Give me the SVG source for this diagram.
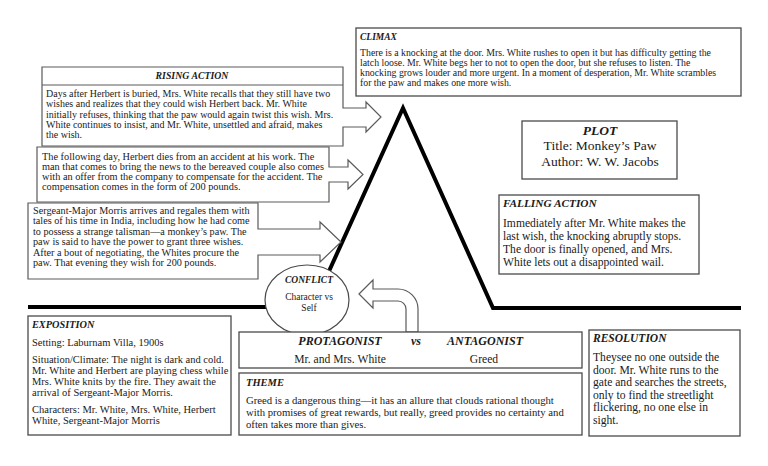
<svg xmlns="http://www.w3.org/2000/svg" width="768" height="466" viewBox="0 0 768 466">
<style>
.bx{fill:#fff;stroke:#4a4a4a;stroke-width:1.3}
.co{fill:#fff;stroke:#5a5a5a;stroke-width:1.2}
text{font-family:"Liberation Serif","Times New Roman",serif;fill:#1a1a1a}
.h{font-weight:bold;font-style:italic}
.c{text-anchor:middle}
.plot{stroke:#000;stroke-width:4;fill:none;stroke-linejoin:miter}
.cl{font-size:9.8px}
.ra{font-size:10px}
.fd{font-size:10.3px}
.sm{font-size:10.2px}
.s10{font-size:10.5px}
.th{font-size:10.7px}
.s11{font-size:11.6px}
</style>
<rect width="768" height="466" fill="#fff"/>

<g id="connectors">
<polyline class="plot" points="325,280 403,108 493,308 741,308"/>
<line class="plot" x1="28" y1="307" x2="300" y2="307"/>
<path class="co" d="M359,294 L373,280 L373,289 L398,289 A20,20 0 0 1 418,309 L418,332 L406,332 L406,309 A8,8 0 0 0 398,301 L373,301 L373,308 Z"/>
</g>

<g id="climax">
<rect class="bx" x="356" y="28" width="385" height="68"/>
<text class="h" x="360" y="40" font-size="9.5">CLIMAX</text>
<text class="cl" x="360" y="56">There is a knocking at the door. Mrs. White rushes to open it but has difficulty getting the</text>
<text class="cl" x="360" y="66">latch loose. Mr. White begs her to not to open the door, but she refuses to listen. The</text>
<text class="cl" x="360" y="76">knocking grows louder and more urgent. In a moment of desperation, Mr. White scrambles</text>
<text class="cl" x="360" y="86">for the paw and makes one more wish.</text>
</g>

<g id="rising-action">
<path class="co" d="M42,67 H343 V108 H366 V102 L381,117 L366,132 V127 H343 V146 H42 Z"/>
<line x1="42" y1="85" x2="343" y2="85" stroke="#5a5a5a" stroke-width="1.2"/>
<text class="h c" x="192" y="79" font-size="9.8">RISING ACTION</text>
<text class="ra" x="46" y="97">Days after Herbert is buried, Mrs. White recalls that they still have two</text>
<text class="ra" x="46" y="107.3">wishes and realizes that they could wish Herbert back. Mr. White</text>
<text class="ra" x="46" y="117.6">initially refuses, thinking that the paw would again twist this wish. Mrs.</text>
<text class="ra" x="46" y="127.9">White continues to insist, and Mr. White, unsettled and afraid, makes</text>
<text class="ra" x="46" y="138.2">the wish.</text>
</g>

<g id="following-day">
<path class="co" d="M37,147 H329 V167 H348 V160 L363,174.5 L348,189 V182 H329 V202 H37 Z"/>
<text class="fd" x="42" y="159.5">The following day, Herbert dies from an accident at his work. The</text>
<text class="fd" x="42" y="169.8">man that comes to bring the news to the bereaved couple also comes</text>
<text class="fd" x="42" y="180.1">with an offer from the company to compensate for the accident. The</text>
<text class="fd" x="42" y="190.4">compensation comes in the form of 200 pounds.</text>
</g>

<g id="sergeant-major">
<path class="co" d="M28,203 H258 V229 H320 V222 L341,242 L320,262 V255 H258 V279 H28 Z"/>
<text class="sm" x="33" y="213.5">Sergeant-Major Morris arrives and regales them with</text>
<text class="sm" x="33" y="224">tales of his time in India, including how he had come</text>
<text class="sm" x="33" y="234.5">to possess a strange talisman—a monkey’s paw. The</text>
<text class="sm" x="33" y="245">paw is said to have the power to grant three wishes.</text>
<text class="sm" x="33" y="255.5">After a bout of negotiating, the Whites procure the</text>
<text class="sm" x="33" y="266">paw. That evening they wish for 200 pounds.</text>
</g>

<g id="conflict">
<ellipse cx="307" cy="300" rx="42" ry="35" fill="#fff" stroke="#4a4a4a" stroke-width="1.2"/>
<text class="h c" x="309" y="283" font-size="9.5">CONFLICT</text>
<text class="c" x="309" y="300" font-size="9.5">Character vs</text>
<text class="c" x="309" y="311" font-size="9.5">Self</text>
</g>

<g id="plot">
<rect class="bx" x="522" y="121" width="155" height="58"/>
<text class="h c" x="600" y="135" font-size="13.5">PLOT</text>
<text class="c" x="600" y="150" font-size="13.5">Title: Monkey’s Paw</text>
<text class="c" x="600" y="165.5" font-size="13.5">Author: W. W. Jacobs</text>
</g>

<g id="falling-action">
<rect class="bx" x="499" y="195" width="200" height="79"/>
<text class="h" x="503" y="207" font-size="11.3">FALLING ACTION</text>
<text class="s11" x="503" y="226.5">Immediately after Mr. White makes the</text>
<text class="s11" x="503" y="239.5">last wish, the knocking abruptly stops.</text>
<text class="s11" x="503" y="252.5">The door is finally opened, and Mrs.</text>
<text class="s11" x="503" y="265.5">White lets out a disappointed wail.</text>
</g>

<g id="exposition">
<rect class="bx" x="28" y="316" width="203" height="119"/>
<text class="h" x="32" y="328" font-size="10.3">EXPOSITION</text>
<text class="s10" x="32" y="345.5">Setting: Laburnam Villa, 1900s</text>
<text class="s10" x="32" y="362.5">Situation/Climate: The night is dark and cold.</text>
<text class="s10" x="32" y="373.5">Mr. White and Herbert are playing chess while</text>
<text class="s10" x="32" y="384.5">Mrs. White knits by the fire. They await the</text>
<text class="s10" x="32" y="395.5">arrival of Sergeant-Major Morris.</text>
<text class="s10" x="32" y="412.5">Characters: Mr. White, Mrs. White, Herbert</text>
<text class="s10" x="32" y="423.5">White, Sergeant-Major Morris</text>
</g>

<g id="protagonist-antagonist">
<rect class="bx" x="239" y="332" width="343" height="36"/>
<text class="h c" x="340" y="345" font-size="12">PROTAGONIST</text>
<text class="h c" x="416" y="345" font-size="12">vs</text>
<text class="h c" x="485" y="345" font-size="12">ANTAGONIST</text>
<text class="c" x="340" y="363" font-size="11.6">Mr. and Mrs. White</text>
<text class="c" x="484" y="363" font-size="11.6">Greed</text>
</g>

<g id="theme">
<rect class="bx" x="239" y="373" width="343" height="62"/>
<text class="h" x="246" y="385.5" font-size="10.5">THEME</text>
<text class="th" x="246" y="404">Greed is a dangerous thing—it has an allure that clouds rational thought</text>
<text class="th" x="246" y="416">with promises of great rewards, but really, greed provides no certainty and</text>
<text class="th" x="246" y="428">often takes more than gives.</text>
</g>

<g id="resolution">
<rect class="bx" x="589" y="330" width="151" height="106"/>
<text class="h" x="593" y="342" font-size="11.5">RESOLUTION</text>
<text class="s11" x="593" y="361">Theysee no one outside the</text>
<text class="s11" x="593" y="373.5">door. Mr. White runs to the</text>
<text class="s11" x="593" y="386">gate and searches the streets,</text>
<text class="s11" x="593" y="398.5">only to find the streetlight</text>
<text class="s11" x="593" y="411">flickering, no one else in</text>
<text class="s11" x="593" y="423.5">sight.</text>
</g>
</svg>
